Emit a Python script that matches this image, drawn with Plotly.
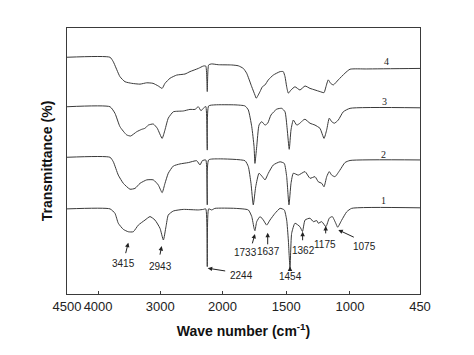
import plotly.graph_objects as go

# ---------------- data ----------------
wn4 = [4500, 3808, 3755, 3648, 3567, 3459, 3326, 3218, 3117, 3032, 2970, 2924, 2843, 2736, 2602, 2522,
       2388, 2308, 2268, 2244, 2222, 2173, 2067, 1927, 1876, 1836, 1810, 1770, 1745, 1735, 1705, 1687,
       1666, 1640, 1601, 1548, 1523, 1509, 1496, 1483, 1462, 1431, 1392, 1352, 1313, 1274, 1235, 1203,
       1188, 1170, 1151, 1130, 1091, 1039, 999, 868, 450]
t4 = [89.0, 89.0, 87.3, 81.7, 79.8, 79.2, 78.9, 79.4, 79.2, 78.2, 77.3, 79.2, 81.1, 82.3, 82.7, 83.6,
      84.8, 85.7, 85.7, 76.1, 86.1, 86.5, 86.2, 86.1, 85.8, 84.8, 83.0, 77.9, 74.8, 73.6, 76.1, 77.9,
      78.6, 80.5, 82.3, 83.6, 83.6, 81.7, 77.9, 75.5, 76.7, 77.9, 76.7, 78.2, 77.3, 76.7, 76.1, 75.7,
      77.9, 80.5, 79.2, 78.6, 80.5, 83.0, 84.5, 84.6, 84.8]

wn3 = [4500, 3808, 3728, 3648, 3540, 3476, 3379, 3299, 3245, 3192, 3112, 3048, 2970, 2924, 2871, 2790,
       2630, 2522, 2441, 2388, 2345, 2308, 2268, 2244, 2222, 2120, 1901, 1823, 1797, 1770, 1752, 1745,
       1731, 1713, 1692, 1666, 1645, 1619, 1574, 1535, 1509, 1492, 1476, 1462, 1444, 1417, 1392, 1366,
       1352, 1313, 1274, 1235, 1203, 1182, 1162, 1143, 1122, 1091, 1052, 999, 450]
t3 = [70.4, 70.4, 67.9, 62.9, 59.8, 59.4, 61.0, 61.9, 62.3, 63.5, 63.9, 62.3, 58.5, 61.7, 66.1, 68.5,
      68.8, 69.4, 69.4, 70.4, 68.9, 69.8, 70.5, 54.1, 70.7, 71.1, 71.1, 70.7, 69.2, 62.9, 55.4, 49.1,
      55.4, 63.5, 64.8, 63.5, 64.2, 67.3, 69.5, 69.8, 68.5, 62.0, 54.4, 61.7, 65.4, 63.5, 64.2, 65.4,
      65.7, 64.2, 63.5, 62.3, 58.5, 61.7, 66.1, 64.8, 64.2, 65.4, 68.5, 69.8, 70.0]

wn2 = [4500, 3808, 3755, 3675, 3594, 3487, 3406, 3326, 3218, 3112, 3032, 2970, 2924, 2871, 2790, 2683,
       2549, 2414, 2361, 2324, 2268, 2244, 2222, 2067, 1823, 1797, 1776, 1758, 1739, 1713, 1687, 1666,
       1640, 1601, 1548, 1515, 1496, 1478, 1462, 1444, 1405, 1352, 1313, 1274, 1248, 1221, 1203, 1182,
       1162, 1143, 1117, 1078, 1039, 999, 450]
t2 = [51.4, 51.4, 49.7, 44.7, 41.6, 39.4, 39.7, 41.6, 42.9, 42.9, 41.0, 38.1, 41.6, 45.4, 48.1, 48.9,
      49.4, 50.1, 48.5, 50.1, 50.4, 33.5, 50.4, 50.8, 50.1, 47.9, 41.6, 33.5, 40.3, 45.4, 44.1, 42.9,
      45.4, 48.5, 49.7, 49.1, 44.1, 33.5, 41.6, 45.4, 44.7, 46.0, 43.5, 44.1, 42.2, 41.6, 40.3, 44.1,
      46.0, 44.7, 44.1, 46.6, 49.4, 50.2, 50.4]

wn1 = [4500, 3808, 3728, 3675, 3594, 3514, 3434, 3353, 3245, 3165, 3085, 3004, 2950, 2908, 2871, 2790,
       2630, 2388, 2308, 2268, 2244, 2222, 2173, 2120, 1901, 1797, 1770, 1752, 1745, 1731, 1705, 1679,
       1653, 1627, 1588, 1548, 1515, 1496, 1483, 1470, 1457, 1431, 1392, 1372, 1352, 1313, 1287, 1260,
       1248, 1221, 1188, 1162, 1138, 1111, 1096, 1064, 1025, 986, 450]
t1 = [32.0, 32.0, 30.3, 26.6, 24.3, 23.4, 23.4, 25.9, 27.8, 29.1, 27.8, 24.7, 20.3, 25.3, 29.7, 31.2,
      31.8, 31.6, 31.8, 32.0, 10.3, 32.0, 31.6, 32.2, 32.2, 31.6, 29.1, 24.7, 23.8, 27.2, 29.1, 27.8,
      25.9, 27.8, 30.3, 32.2, 31.6, 27.8, 20.3, 9.8, 22.8, 26.6, 25.3, 23.5, 27.8, 28.5, 27.2, 27.6,
      26.6, 27.2, 25.3, 28.5, 29.1, 26.6, 25.1, 27.8, 30.9, 32.2, 32.4]

series_names = ["1", "2", "3", "4"]
label_wn = [738, 738, 725, 711]
label_t = [35.0, 52.3, 72.3, 87.3]

# peak labels: text, arrow head (wn, T), arrow tail offset (px), text position (wn, T)
peak_text = ["3415", "2943", "2244", "1733", "1637", "1454", "1362", "1175", "1075"]
head_wn = [3514, 2977, 2237, 1745, 1645, 1470, 1371, 1190, 1091]
head_t = [19.3, 18.0, 9.7, 22.6, 23.0, 10.3, 23.4, 25.6, 24.1]
tail_dx = [-3, -2, 19, -3, 0, 0, 0, 0, 17]
tail_dy = [12, 10, 3, 11, 13, 4, 10, 9, 8]
text_wn = [3594, 2993, 1849, 1823, 1640, 1464, 1366, 1195, 882]
text_t = [11.3, 10.5, 7.1, 15.5, 15.9, 6.4, 16.3, 18.7, 18.0]

tick_wn = [4500, 4000, 3000, 2000, 1500, 1000, 450]
tick_text = ["4500", "4000", "3000", "2000", "1500", "1000", "450"]

# ---------------- axis transform (split-scale wavenumber axis) ----------------
EXPAND = 2.05


def u(w):
    if w >= 2000:
        return 4500 - w
    return 2500 + EXPAND * (2000 - w)


def us(ws):
    return [u(w) for w in ws]


FONT = "Arial, Liberation Sans, sans-serif"
LINE = "#3a3a3a"

fig = go.Figure()
for wn, tt in [(wn1, t1), (wn2, t2), (wn3, t3), (wn4, t4)]:
    fig.add_trace(go.Scatter(x=us(wn), y=tt, mode="lines",
                             line=dict(color=LINE, width=1, shape="spline", smoothing=0.5),
                             showlegend=False, hoverinfo="skip"))

ann = []
for name, lw, lt in zip(series_names, label_wn, label_t):
    ann.append(dict(x=u(lw), y=lt, text=name, showarrow=False,
                    font=dict(family="Liberation Serif, Times New Roman, serif", size=10, color="#222")))
for txt, hw, ht, dx, dy, tw, tt in zip(peak_text, head_wn, head_t, tail_dx, tail_dy, text_wn, text_t):
    ann.append(dict(x=u(hw), y=ht, ax=dx, ay=dy, text="", showarrow=True,
                    arrowhead=2, arrowsize=0.9, arrowwidth=1, arrowcolor="#222"))
    ann.append(dict(x=u(tw), y=tt, text=txt, showarrow=False,
                    font=dict(family=FONT, size=10, color="#222")))

# the page body adds an 8px offset, so margins are set 8px smaller on the top/left
fig.update_layout(
    width=474, height=355,
    margin=dict(l=59, r=62, t=20, b=69, autoexpand=False),
    paper_bgcolor="white", plot_bgcolor="white",
    font=dict(family=FONT, color="#222"),
    annotations=ann,
    xaxis=dict(range=[0, u(450)], tickmode="array", tickvals=us(tick_wn), ticktext=tick_text,
               ticks="inside", ticklen=3, tickcolor=LINE, showgrid=False, zeroline=False,
               showline=True, linecolor=LINE, linewidth=1, mirror=True, automargin=False,
               tickfont=dict(family=FONT, size=13, color="#222"),
               title=dict(text="<b>Wave number (cm<sup>-1</sup>)</b>", standoff=13,
                          font=dict(family=FONT, size=14, color="#111"))),
    yaxis=dict(range=[0, 100], showticklabels=False, ticks="", showgrid=False, zeroline=False,
               showline=True, linecolor=LINE, linewidth=1, mirror=True, automargin=False,
               title=dict(text="<b>Transmittance (%)</b>", standoff=10,
                          font=dict(family=FONT, size=14, color="#111"))),
)

fig.write_html("out.html")
